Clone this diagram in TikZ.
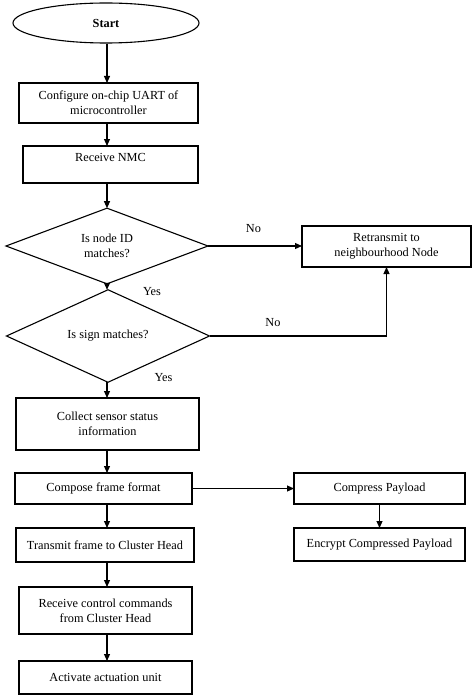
\documentclass[tikz,border=0pt]{standalone}
\usepackage{fontspec}
\setmainfont{Liberation Serif}
\usetikzlibrary{shapes.geometric,arrows.meta}
\begin{document}
\begin{tikzpicture}[x=1pt,y=-1pt,
  every node/.style={font=\fontsize{12.3}{15}\selectfont},
  box/.style={draw,line width=1.1pt,rectangle,inner sep=0pt,outer sep=0pt,align=center},
  dec/.style={draw,line width=1.1pt,diamond,inner sep=0pt,outer sep=0pt,align=center},
  arr/.style={line width=1.1pt,-{Triangle[length=7pt,width=6pt]}},
  lbl/.style={inner sep=0pt}]
\useasboundingbox (0,0) rectangle (474,698);
\coordinate (spine) at (107,0);
\node[draw,line width=1.1pt,ellipse,minimum width=186pt,minimum height=40pt,inner sep=0pt,font=\fontsize{12.3}{15}\selectfont\bfseries] (start) at (106,23) {Start};
\node[box,minimum width=179pt,minimum height=40pt] (conf) at (108.5,103) {Configure on-chip UART of\\microcontroller};
\node[box,minimum width=175pt,minimum height=37pt] (nmc) at (110.5,164.5) {Receive NMC\\\mbox{}};
\node[dec,minimum width=202pt,minimum height=75pt] (d1) at (107,246) {Is node ID\\matches?};
\node[dec,minimum width=203pt,minimum height=84pt] (d2) at (108,336) {Is sign matches?};
\node[box,minimum width=183pt,minimum height=52pt] (coll) at (107.5,424) {Collect sensor status\\information};
\node[box,minimum width=177pt,minimum height=31pt] (comp) at (103.5,488.5) {Compose frame format};
\node[box,minimum width=178pt,minimum height=34pt] (trans) at (105,545) {Transmit frame to Cluster Head};
\node[box,minimum width=173pt,minimum height=47pt] (rcc) at (105.5,610.5) {Receive control commands\\from Cluster Head};
\node[box,minimum width=173pt,minimum height=33pt] (act) at (105.5,677.5) {Activate actuation unit};
\node[box,minimum width=169pt,minimum height=41pt] (retx) at (386.5,246.5) {Retransmit to\\neighbourhood Node};
\node[box,minimum width=171pt,minimum height=31pt] (cpl) at (379.5,488.5) {Compress Payload};
\node[box,minimum width=171pt,minimum height=33pt] (enc) at (379.5,544.5) {Encrypt Compressed Payload};
\coordinate (turn) at (d2.east -| retx.south);
\draw[arr] (start.south -| spine) -- (conf.north -| spine);
\draw[arr] (conf.south -| spine) -- (nmc.north -| spine);
\draw[arr] (nmc.south -| spine) -- (d1.north -| spine);
\draw[arr] (d1.south -| spine) -- (d2.north -| spine);
\draw[arr] (d2.south -| spine) -- (coll.north -| spine);
\draw[arr] (coll.south -| spine) -- (comp.north -| spine);
\draw[arr] (comp.south -| spine) -- (trans.north -| spine);
\draw[arr] (trans.south -| spine) -- (rcc.north -| spine);
\draw[arr] (rcc.south -| spine) -- (act.north -| spine);
\draw[arr] (d1.east) -- (d1.east -| retx.west);
\draw[line width=1.1pt] (d2.east) -- (turn);
\draw[arr] (turn) -- (retx.south);
\draw[arr] (comp.east) -- (cpl.west);
\draw[arr] (cpl.south) -- (enc.north);
\node[lbl] (no1) at (253.5,229) {No};
\node[lbl] (no2) at (273,323) {No};
\node[lbl] (yes1) at (152,292) {Yes};
\node[lbl] (yes2) at (163.5,378) {Yes};
\end{tikzpicture}
\end{document}
